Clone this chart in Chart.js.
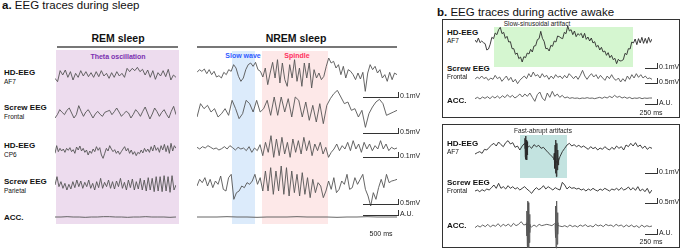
<!DOCTYPE html>
<html>
<head>
<meta charset="utf-8">
<script src="https://cdn.jsdelivr.net/npm/chart.js@4.4.1/dist/chart.umd.min.js"></script>
<style>
  body { margin: 0; background: #fff; }
  #fig { position: relative; width: 685px; height: 250px; overflow: hidden;
         font-family: "Liberation Sans", Arial, sans-serif; color: #111; }
  #fig canvas { position: absolute; }
  .t { position: absolute; white-space: nowrap; line-height: 1; }
  .shade, .box, .hbar, .sbar { position: absolute; }
</style>
</head>
<body>
<div id="fig"></div>
<script>
// ---- trace values (amplitude, arbitrary units, up = positive) ----
const remDuration = 1.73;   // s
const nremDuration = 2.86;  // s
const awakeDuration = 4.0;  // s

const remAf7 = [-7, -17, 16, 3, 18, -4, 13, -12, 8, -4, 16, 0, 13, -2, 10, -4, 13, -2, 16, 0, 8, -7, 10, -4,
  13, 0, 8, -4, 23, 13, 23, 16, 26, 13, 20, 3, 18, -4, 16, -10, 10, 0, 16, -2, 20, -12, 3, -4];
const remFrontal = [-15, -5, 10, 2, -5, 8, 15, 0, -15, -5, 22, 5, -10, 3, 10, -2, -15, -3, 5, -4, -10, 2, 5, 8,
  -5, 4, 15, 3, -10, -2, 5, 0, -15, -4, 10, 2, -10, 5, 18, 0, -18, -3, 15, 4, -10, 2, 10, -4, -15, 5, 20, -5];
const remCp6 = [-7, 16, -2, 8, 0, 6, -4, 8, 2, 10, -2, 4, -7, 12, 3, 15, 0, 8, -4, 3, -12, 0, -7, 6, -2, 13, 2,
  10, -12, -22, -7, 8, 0, 16, 6, -2, 4, -7, 0, -10, -2, 6, 13, 0, 8, -7, 3, -10, -2, -14, -4, -8, 3, -6, 8, -2,
  6, -4, 13, 0, 18, 2, 10, -4, 16, 3, 20, -2, 16, -7, 23, 0, 16, 8];
const remParietal = [0, 25, -5, 10, -10, 5, -15, 2, -12, 10, -8, 15, -5, 12, -10, 8, -5, 15, -10, 5, -15, 10, -8,
  20, -10, 8, -5, 15, -10, 10, -12, 12, -5, 20, -10, 8, -15, 15, -8, 18, -15, 10, -12, 20, -15, 15, -18, 22, -15,
  20, -20, 25, -18, 25, -20, 28, -18, 25, -22, 28, -15, 0];
const remAcc = [0, 0, 1, 0, 0, -1, 0, 0, 1, 1, 0, 0, -1, 0, 0, 1, 0, 0, 0, -1, 0];

const nremAf7 = [2, 10, 5, 12, -2, 10, -5, 5, -12, -8, -15, 2, -5, 10, 5, 25, 15, -10, -25, -15, 10, 25, 30, 20,
  32, 10, 5, -12, 15, -35, 0, 32, -15, 40, -30, 30, -20, -40, 25, -15, 40, -25, 15, -40, 30, -15, 30, -45, 10,
  -15, 0, -20, -10, 20, 45, 30, 35, 15, 25, -5, 20, -15, 10, 5, -5, -20, 0, -18, 2, -55, 0, 25, 10, 20, 0, 10,
  -15, -5, -25, 2, -20, 0, -5];
const nremFrontal = [-15, 25, 10, 20, 0, 10, -15, -5, 10, -10, 35, 10, -20, -5, 35, 25, 0, 35, 0, 10, 35, -10,
  45, -10, 45, 0, 40, -15, 45, 35, -15, 30, -25, 20, -30, 25, -35, 20, 40, 55, 65, 45, 25, 30, 5, 10, -15, 5,
  -46, -5, 15, 30, 38, 25, -10, -5, 0, 5];
const nremCp6 = [2, -3, 4, 0, 7, 2, -3, 0, -6, -2, 4, -3, 7, 1, -6, 2, -3, 0, -8, 4, -13, 0, -8, 10, -23, 17,
  -13, 37, -28, 27, -23, 32, -18, 17, -28, 27, -13, 22, -18, 32, -8, 22, -23, 12, -8, 17, -18, 2, -28, -13, -3,
  12, -8, 7, -3, 17, -8, 22, -3, 12, -13, 17, -3, 12, -8, 7, -3, 22, -3, 12, -8, 2, -3, 0];
const nremParietal = [0, 20, 10, 25, 0, 20, -5, 15, 5, 30, -10, -15, 25, 35, -40, -20, -15, 0, -5, 10, 5, 15, 35,
  5, 25, -15, 45, -15, 55, -25, 45, -15, 60, -25, 55, -30, 45, -20, 35, -30, 40, -25, 25, -35, 20, -20, 10, 0,
  -35, -15, 15, -10, 25, -20, -10, 15, 5, 35, -10, -5, 25, 5, 20, 35, -10, -30, -60, -20, -40, -5, 20, -5, 35,
  10, 15, 17, 20];
const nremAcc = [0, 0, 0, 1, 0, 0, -1, 0, 0, 0, 1, 0, 0, 0, -1, 0, 0, 1, 0, 0, 0];

// b. active awake, slow-sinusoidal artifact
const slowAf7 = [9, 2, 15, 1, 6, 1, -2, -21, -18, -4, 17, 13, 30, 25, 40, 47, 28, 32, 14, 20, 3, 4, -17, -17,
  -34, -30, -47, -42, -57, -41, -44, -30, -33, -19, -27, -9, -8, 10, 13, 35, 14, 5, -17, -16, -24, -7, -10, 6,
  3, 21, 19, 15, 13, 32, 28, 51, 36, 40, 25, 36, 19, 28, 24, 29, 15, 29, 11, 18, 6, 15, 0, 4, -12, -7, -21,
  -13, -27, -24, -37, -29, -44, -37, -50, -46, -62, -49, -54, -53, -50, -31, -35, -17, -18, 3, 0, 12, -5, 13,
  0, 17, -1, 14, -1, 17, 2, 12];
const slowFrontal = [-4, 3, -2, 6, -2, 2, -7, 0, -4, 8, -2, 3, -10, -2, 6, -7, 2, -12, -4, -17, -7, 0, 6, -2,
  13, 3, 18, 6, 10, 0, 13, 3, 8, -4, 6, -2, 10, 2, 6, -2, 8, 0, 13, 6, -2, 6, -4, 8, 23, 6, -4, 6, 13, 3, 10,
  -2, 8, 0, -7, 6, -2, 10, -2, -7, 0, -12, -2, -10, 6, -4, 10, 0, 13, 2, 10, 0, 6, -2, 0, -4];
const slowAcc = [-2, 2, -3, 3, -1, 4, -2, 5, 0, 6, -1, 7, 1, 10, 2, 8, 0, 5, 12, 3, 12, 5, 15, 2, -10, 10, 18,
  0, -8, 15, 2, 20, 5, 12, 2, 8, 0, 3, -1, 1, -1, 0, -2, 0, -1, 1, -1, 0, -2, 0, 2, -1, 3, 0, 5, 1, 8, 2, 5,
  0, 3, -1, 2, -2, 0, -1, 1, -2, 0, -1, 0, 0];

// b. active awake, fast-abrupt artifacts
const fastAf7 = [-12, -8, -5, -10, 2, 0, 8, 15, 20, 12, 24, 16, 10, 22, 28, 18, 22, 8, 12, 0, 12, 20, 5, 12, 5,
  16, 10, 14, 5, 8, 0, -8, -15, -22, -30, -40, -20, -5, 5, 15, 20, 12, 16, 10, 14, 8, 12, 7, 2, 10, 4, 8, 0, 6,
  2, 10, 4, 0, 8, 2, 12, 5, 10, 0, 15, 10, 20, 12, 22, 10, 15, 5, 12, 2, 8, 5];
const fastAf7BurstT1 = [1.12, 1.128, 1.136, 1.144, 1.152, 1.16, 1.168, 1.176, 1.184, 1.192];
const fastAf7BurstV1 = [5, 35, -20, 42, -28, 30, -30, 25, -15, 10];
const fastAf7BurstT2 = [1.78, 1.79, 1.8, 1.81, 1.82, 1.83, 1.84, 1.85, 1.86, 1.87, 1.88, 1.89];
const fastAf7BurstV2 = [-30, -10, -55, 15, -70, 30, -80, 20, -60, 0, -45, -25];
const fastFrontal = [-3, 0, -5, 1, -3, 3, 0, 7, 15, 5, 20, 5, 10, 3, 13, 5, 10, 3, 7, 0, 5, 10, 3, -3, -10, 0, 7,
  1, 5, 13, 3, 10, 5, 0, 7, 3, 0, 23, 15, 3, 10, 5, 7, 3, 5, 0, 3, -3, 3, -1, 5, 0, -3, 3, -1, 5, 1, -3, 3, 0,
  5, -1, 7, 0, 3, 9, 0, 7, -1, 10, -3, 3, -5, 5, -10, 0];
const fastAcc = [-5, 1, -3, 3, -2, 5, -3, 3, -1, 7, -2, 5, 0, 6, -2, 8, 1, 5, 13, 3, 5, 3, -3, 3, -2, 5, 1, 3, 5,
  3, 1, 7, 3, 0, -2, 1, -3, 3, -2, 1, -3, 3, -1, 4, -2, 1, -3, 5, 0, 3, -2, 5, 1, 3, -2, 5, 0, 3, -3, 3, -2, 3,
  -3, 1, -5, 3, -3, 1, -2, 0];
const fastAccBurstT1 = [1.16, 1.168, 1.175, 1.182, 1.19, 1.197, 1.205, 1.212, 1.22, 1.227, 1.235, 1.242, 1.25];
const fastAccBurstV1 = [10, -30, 45, -60, 75, -66, 70, -66, 60, -50, 35, -20, 5];
const fastAccBurstT2 = [1.81, 1.817, 1.824, 1.831, 1.838, 1.845, 1.852, 1.859, 1.866, 1.873, 1.88];
const fastAccBurstV2 = [5, -35, 60, -66, 75, -66, 65, -55, 40, -25, 10];

const fig = document.getElementById('fig');

function addText(html, x, y, style, align) {
  const el = document.createElement('div');
  el.className = 't';
  el.innerHTML = html;
  el.style.cssText += style;
  el.style.left = x + 'px';
  el.style.top = y + 'px';
  el.style.transform = align === 'center' ? 'translate(-50%,-50%)' : 'translateY(-50%)';
  fig.appendChild(el);
}

function addBlock(cls, x, y, w, h, style) {
  const el = document.createElement('div');
  el.className = cls;
  el.style.cssText = `left:${x}px;top:${y}px;width:${w}px;height:${h}px;` + (style || '');
  fig.appendChild(el);
}

function toPoints(values, duration) {
  return values.map((v, i) => ({ x: i * duration / (values.length - 1), y: v }));
}

function addTrace(values, duration, left, width, centerY, height, color, bursts) {
  const canvas = document.createElement('canvas');
  canvas.width = width;
  canvas.height = height;
  canvas.style.left = left + 'px';
  canvas.style.top = (centerY - height / 2) + 'px';
  canvas.style.width = width + 'px';
  canvas.style.height = height + 'px';
  fig.appendChild(canvas);

  const datasets = [{ data: toPoints(values, duration), borderColor: color, borderWidth: 0.9, clip: false }];
  (bursts || []).forEach(b => {
    datasets.push({
      data: b.t.map((t, k) => ({ x: t, y: b.v[k] })),
      borderColor: color, borderWidth: 0.9, clip: false
    });
  });

  new Chart(canvas, {
    type: 'line',
    data: { datasets },
    options: {
      responsive: false,
      animation: false,
      events: [],
      layout: { padding: 0 },
      plugins: { legend: { display: false }, tooltip: { enabled: false } },
      elements: { point: { radius: 0 }, line: { tension: 0 } },
      scales: {
        x: { type: 'linear', display: false, min: 0, max: duration },
        y: { type: 'linear', display: false, min: -height * 1.5, max: height * 1.5 }
      }
    }
  });
}

function addScaleBar(x0, x1, y, label) {
  addBlock('sbar', x0, y, x1 - x0, 0, 'border-top:1px solid #333;');
  addBlock('sbar', x1, y - 5, 0, 6, 'border-left:1px solid #333;');
  addText(label, x1 + 2, y - 2, 'font-size:7px;color:#222;');
}

// ---- panel a ----
addText('<b>a.</b> EEG traces during sleep', 2, 6, 'font-size:11.5px;');
addBlock('shade', 56, 50, 123, 174, 'background:#eddcee;');
addBlock('shade', 232, 51, 23, 173, 'background:#dcebfb;');
addBlock('shade', 262, 51, 66, 173, 'background:#fde8e8;');

addText('REM sleep', 118, 38, 'font-size:10.5px;font-weight:bold;', 'center');
addBlock('hbar', 57, 46, 121, 2, 'background:#777;');
addText('NREM sleep', 296, 38, 'font-size:10.5px;font-weight:bold;', 'center');
addBlock('hbar', 197, 46, 200, 2, 'background:#777;');
addText('Theta oscillation', 118, 56, 'font-size:7px;font-weight:bold;color:#7b2fb0;', 'center');
addText('Slow wave', 243, 55, 'font-size:7px;font-weight:bold;color:#2f5bff;', 'center');
addText('Spindle', 297, 55, 'font-size:7px;font-weight:bold;color:#ff3060;', 'center');

const rowA = [
  ['HD-EEG', 'AF7', 73], ['Screw EEG', 'Frontal', 108], ['HD-EEG', 'CP6', 146],
  ['Screw EEG', 'Parietal', 182], ['ACC.', '', 218]
];
rowA.forEach(r => {
  addText(r[0], 4, r[2], 'font-size:8px;font-weight:bold;');
  if (r[1]) addText(r[1], 4, r[2] + 9, 'font-size:6.5px;');
});

const traceGrey = '#555';
addTrace(remAf7, remDuration, 55, 121, 76, 44, traceGrey);
addTrace(remFrontal, remDuration, 55, 121, 113, 44, traceGrey);
addTrace(remCp6, remDuration, 55, 121, 151, 44, traceGrey);
addTrace(remParietal, remDuration, 55, 121, 185, 44, traceGrey);
addTrace(remAcc, remDuration, 55, 121, 217, 20, traceGrey);

addTrace(nremAf7, nremDuration, 197, 200, 73, 44, traceGrey);
addTrace(nremFrontal, nremDuration, 197, 200, 112, 44, traceGrey);
addTrace(nremCp6, nremDuration, 197, 200, 148, 44, traceGrey);
addTrace(nremParietal, nremDuration, 197, 200, 186, 48, traceGrey);
addTrace(nremAcc, nremDuration, 197, 200, 217, 20, traceGrey);

addScaleBar(363, 398, 97, '0.1mV');
addScaleBar(363, 398, 133, '0.5mV');
addScaleBar(363, 398, 157, '0.1mV');
addScaleBar(363, 398, 204, '0.5mV');
addScaleBar(363, 398, 215, 'A.U.');
addText('500 ms', 381, 233, 'font-size:7px;color:#222;', 'center');

// ---- panel b ----
addText('<b>b.</b> EEG traces during active awake', 437, 13, 'font-size:11.5px;');
addBlock('box', 442, 19, 238, 99, 'border:1px solid #333;box-sizing:border-box;');
addBlock('box', 442, 124, 238, 124, 'border:1px solid #333;box-sizing:border-box;');
addBlock('shade', 494, 27, 139, 40, 'background:#d5f6d0;');
addBlock('shade', 520, 135, 47, 43, 'background:#c3e3e0;');
addText('Slow-sinusoidal artifact', 537, 24, 'font-size:6.5px;color:#222;', 'center');
addText('Fast-abrupt artifacts', 543, 131, 'font-size:6.5px;color:#222;', 'center');

const rowB = [
  ['HD-EEG', 'AF7', 33], ['Screw EEG', 'Frontal', 69], ['ACC.', '', 101],
  ['HD-EEG', 'AF7', 144], ['Screw EEG', 'Frontal', 183], ['ACC.', '', 226]
];
rowB.forEach(r => {
  addText(r[0], 447, r[2], 'font-size:8px;font-weight:bold;');
  if (r[1]) addText(r[1], 447, r[2] + 8, 'font-size:6.5px;');
});

const traceDark = '#2a2a2a';
addTrace(slowAf7, awakeDuration, 475, 177, 43, 50, traceDark);
addTrace(slowFrontal, awakeDuration, 475, 177, 78, 30, traceGrey);
addTrace(slowAcc, awakeDuration, 475, 177, 98, 24, traceGrey);

addTrace(fastAf7, awakeDuration, 475, 177, 150, 60, traceDark, [
  { t: fastAf7BurstT1, v: fastAf7BurstV1 }, { t: fastAf7BurstT2, v: fastAf7BurstV2 }
]);
addTrace(fastFrontal, awakeDuration, 475, 177, 190, 30, traceDark);
addTrace(fastAcc, awakeDuration, 475, 177, 226, 54, traceGrey, [
  { t: fastAccBurstT1, v: fastAccBurstV1 }, { t: fastAccBurstT2, v: fastAccBurstV2 }
]);

addScaleBar(645, 657, 68, '0.1mV');
addScaleBar(645, 657, 83, '0.5mV');
addScaleBar(645, 657, 104, 'A.U.');
addText('250 ms', 651, 112, 'font-size:7px;color:#222;', 'center');
addScaleBar(645, 657, 173, '0.1mV');
addScaleBar(645, 657, 203, '0.5mV');
addScaleBar(645, 657, 234, 'A.U.');
addText('250 ms', 651, 241, 'font-size:7px;color:#222;', 'center');
</script>
</body>
</html>
